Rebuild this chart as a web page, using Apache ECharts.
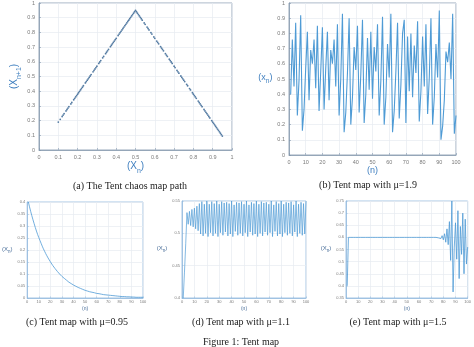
<!DOCTYPE html>
<html><head><meta charset="utf-8">
<script src="https://cdn.jsdelivr.net/npm/echarts@6/dist/echarts.min.js"></script>
<style>html,body{margin:0;padding:0;background:#fff}#c{width:474px;height:347px}</style>
</head><body><div id="c"></div>
<script>
// (a) return map points (x_n, x_{n+1})
const pathX = [0.10,0.12,0.14,0.155,0.17,0.19,0.20,0.21,0.22,0.24,0.25,0.26,0.28,0.29,0.30,0.32,0.33,0.35,0.36,0.38,0.39,0.40,0.42,0.43,0.44,0.45,0.46,0.48,0.49,0.50,
  0.51,0.53,0.55,0.56,0.58,0.60,0.61,0.63,0.64,0.66,0.68,0.69,0.70,0.72,0.74,0.75,0.77,0.78,0.80,0.81,0.83,0.84,0.86,0.87,0.88,0.90,0.91,0.92,0.93,0.94,0.95,
  0.11,0.125,0.13,0.145,0.15,0.165,0.18,0.185,0.195,0.205,0.215,0.225,0.23,0.245,0.255,0.265,0.27,0.285,0.295,0.31,0.315,0.335,0.345,0.355,0.37,0.375,0.385,0.395,0.41,0.415,0.425,0.435,0.445,0.455,0.465,0.47,0.475,0.485,0.495,
  0.505,0.515,0.52,0.525,0.535,0.545,0.565,0.57,0.585,0.595,0.615,0.62,0.635,0.645,0.655,0.665,0.675,0.685,0.705,0.715,0.725,0.735,0.745,0.755,0.765,0.785,0.795,0.805,0.815,0.825,0.835,0.845,0.855,0.865,0.875,0.885,0.895,0.905,0.915,0.925,0.935,0.945];
const pathY = [0.19,0.228,0.266,0.2945,0.323,0.361,0.38,0.399,0.418,0.456,0.475,0.494,0.532,0.551,0.57,0.608,0.627,0.665,0.684,0.722,0.741,0.76,0.798,0.817,0.836,0.855,0.874,0.912,0.931,0.95,
  0.931,0.893,0.855,0.836,0.798,0.76,0.741,0.703,0.684,0.646,0.608,0.589,0.57,0.532,0.494,0.475,0.437,0.418,0.38,0.361,0.323,0.304,0.266,0.247,0.228,0.19,0.171,0.152,0.133,0.114,0.095,
  0.209,0.2375,0.247,0.2755,0.285,0.3135,0.342,0.3515,0.3705,0.3895,0.4085,0.4275,0.437,0.4655,0.4845,0.5035,0.513,0.5415,0.5605,0.589,0.5985,0.6365,0.6555,0.6745,0.703,0.7125,0.7315,0.7505,0.779,0.7885,0.8075,0.8265,0.8455,0.8645,0.8835,0.893,0.9025,0.9215,0.9405,
  0.9405,0.9215,0.912,0.9025,0.8835,0.8645,0.8265,0.817,0.7885,0.7695,0.7315,0.722,0.6935,0.6745,0.6555,0.6365,0.6175,0.5985,0.5605,0.5415,0.5225,0.5035,0.4845,0.4655,0.4465,0.4085,0.3895,0.3705,0.3515,0.3325,0.3135,0.2945,0.2755,0.2565,0.2375,0.2185,0.1995,0.1805,0.1615,0.1425,0.1235,0.1045];

// (b) mu = 1.9, n = 1..100
const seriesB = [0.40,0.76,0.45,0.87,0.26,0.49,0.92,0.16,0.30,0.57,
  0.81,0.36,0.69,0.60,0.76,0.44,0.85,0.29,0.55,0.84,
  0.30,0.57,0.81,0.36,0.69,0.60,0.76,0.45,0.86,0.26,
  0.50,0.93,0.15,0.28,0.54,0.90,0.20,0.38,0.71,0.56,
  0.85,0.28,0.53,0.89,0.21,0.40,0.77,0.43,0.81,0.37,
  0.71,0.55,0.86,0.26,0.49,0.91,0.20,0.38,0.73,0.51,
  0.93,0.15,0.29,0.55,0.87,0.24,0.46,0.80,0.89,0.21,
  0.78,0.42,0.80,0.38,0.72,0.54,0.88,0.22,0.42,0.78,
  0.45,0.86,0.27,0.51,0.90,0.20,0.38,0.73,0.51,0.95,
  0.10,0.19,0.36,0.68,0.61,0.74,0.50,0.93,0.14,0.26];

// (c) mu = 0.95, n = 1..100
const seriesC = [0.400,0.380,0.361,0.343,0.326,0.310,0.294,0.279,0.265,0.252,
  0.240,0.228,0.216,0.205,0.195,0.185,0.176,0.167,0.159,0.151,
  0.143,0.136,0.129,0.123,0.117,0.111,0.105,0.100,0.095,0.090,
  0.086,0.082,0.078,0.074,0.070,0.066,0.063,0.060,0.057,0.054,
  0.051,0.049,0.046,0.044,0.042,0.040,0.038,0.036,0.034,0.032,
  0.031,0.029,0.028,0.026,0.025,0.024,0.023,0.022,0.020,0.019,
  0.018,0.018,0.017,0.016,0.015,0.014,0.014,0.013,0.012,0.012,
  0.011,0.011,0.010,0.010,0.009,0.009,0.008,0.008,0.007,0.007,
  0.007,0.006,0.006,0.006,0.005,0.005,0.005,0.005,0.004,0.004,
  0.004,0.004,0.004,0.003,0.003,0.003,0.003,0.003,0.003,0.003];

// (d) mu = 1.1, n = 1..100
const seriesD = [0.400,0.440,0.484,0.532,0.514,0.534,0.512,0.537,0.510,0.539,
  0.507,0.542,0.504,0.546,0.499,0.549,0.496,0.545,0.500,0.550,
  0.495,0.545,0.501,0.549,0.496,0.546,0.500,0.550,0.495,0.545,
  0.501,0.549,0.497,0.547,0.502,0.548,0.496,0.546,0.499,0.550,
  0.495,0.544,0.503,0.548,0.497,0.547,0.500,0.549,0.496,0.545,
  0.501,0.550,0.495,0.544,0.502,0.548,0.497,0.546,0.499,0.550,
  0.495,0.545,0.500,0.549,0.496,0.547,0.502,0.548,0.497,0.545,
  0.501,0.550,0.495,0.544,0.503,0.549,0.496,0.546,0.499,0.550,
  0.495,0.545,0.501,0.548,0.497,0.547,0.500,0.549,0.496,0.544,
  0.502,0.550,0.495,0.545,0.500,0.548,0.497,0.546,0.499,0.550];

// (e) mu = 1.5, n = 1..100
const seriesE = [0.40,0.60,0.60,0.60,0.60,0.60,0.60,0.60,0.60,0.60,
  0.60,0.60,0.60,0.60,0.60,0.60,0.60,0.60,0.60,0.60,
  0.60,0.60,0.60,0.60,0.60,0.60,0.60,0.60,0.60,0.60,
  0.60,0.60,0.60,0.60,0.60,0.60,0.60,0.60,0.60,0.60,
  0.60,0.60,0.60,0.60,0.60,0.60,0.60,0.60,0.60,0.60,
  0.60,0.60,0.60,0.60,0.60,0.60,0.60,0.60,0.60,0.60,
  0.60,0.60,0.60,0.60,0.60,0.60,0.60,0.60,0.60,0.60,
  0.60,0.60,0.60,0.60,0.601,0.598,0.604,0.595,0.607,0.59,
  0.615,0.58,0.635,0.57,0.665,0.505,0.75,0.375,0.56,0.66,
  0.51,0.71,0.43,0.645,0.53,0.70,0.45,0.675,0.49,0.56];

const captions = ['(a) The Tent chaos map path','(b) Tent map with \u03bc=1.9','(c) Tent map with \u03bc=0.95','(d) Tent map with \u03bc=1.1','(e) Tent map with \u03bc=1.5'];
const figTitle = 'Figure 1: Tent map';

const pairs = arr => arr.map((v, i) => [i + 1, v]);
const FONT = 'Liberation Sans';
const LINE = '#4f9bd5';

function ax(idx, min, max, interval, o) {
  return {
    type: 'value', gridIndex: idx, min, max, interval,
    name: o.name || '', nameLocation: 'middle', nameGap: o.nameGap, nameRotate: o.nameRotate,
    nameTextStyle: Object.assign({fontFamily: FONT, color: o.nameColor, fontSize: o.nameSize}, o.nts || {}),
    axisLine: {show: true, onZero: false, lineStyle: {color: o.lineColor, width: 0.8}},
    axisTick: {show: true, inside: true, length: o.tick, lineStyle: {color: o.lineColor, width: 0.6}},
    splitLine: {show: true, lineStyle: {color: '#e6ebf0', width: 0.7}},
    axisLabel: {fontFamily: FONT, fontSize: o.labelSize, color: '#7a7a7a', margin: o.margin, showMinLabel: true, showMaxLabel: true}
  };
}
function sub(main, s, mSize, sSize, color) {
  const lh = Math.round(mSize * 1.35);
  return {
    name: '{m|' + main + '}{s|' + s + '}{m|)}',
    nts: {rich: {
      m: {fontFamily: FONT, fontSize: mSize, lineHeight: lh, verticalAlign: 'top', color},
      s: {fontFamily: FONT, fontSize: sSize, lineHeight: lh, verticalAlign: 'bottom', color}
    }}
  };
}
const topC = '#3f7fbf', botC = '#4a6f9a';
const TOPL = '#8196ab', BOTL = '#8fb8de';

const ya = sub('(X', 'n+1', 10, 7, topC);
const xa = sub('(X', 'n', 10, 7, topC);
const yb = sub('(x', 'n', 9, 6.5, topC);
const yc = sub('(X', 'n', 6, 4.5, botC);

const xAxes = [
  ax(0, 0, 1, 0.1, {name: xa.name, nts: xa.nts, nameGap: 10, lineColor: TOPL, tick: 2, labelSize: 5.5, margin: 4}),
  ax(1, 0, 100, 10, {name: '(n)', nameColor: topC, nameSize: 9, nameGap: 9, lineColor: TOPL, tick: 2, labelSize: 5.5, margin: 4}),
  ax(2, 0, 100, 10, {name: '(n)', nameColor: botC, nameSize: 5, nameGap: 8, lineColor: BOTL, tick: 1.5, labelSize: 4, margin: 2}),
  ax(3, 0, 100, 10, {name: '(n)', nameColor: botC, nameSize: 5, nameGap: 8, lineColor: BOTL, tick: 1.5, labelSize: 4, margin: 2}),
  ax(4, 0, 100, 10, {name: '(n)', nameColor: botC, nameSize: 5, nameGap: 8, lineColor: BOTL, tick: 1.5, labelSize: 4, margin: 2})
];
const yAxes = [
  ax(0, 0, 1, 0.1, {name: ya.name, nts: ya.nts, nameGap: 16, lineColor: TOPL, tick: 2, labelSize: 5.5, margin: 4}),
  ax(1, 0, 1, 0.1, {name: yb.name, nts: yb.nts, nameGap: 12, nameRotate: 0, lineColor: TOPL, tick: 2, labelSize: 5.5, margin: 4}),
  ax(2, 0, 0.4, 0.05, {name: yc.name, nts: yc.nts, nameGap: 8, nameRotate: 0, lineColor: BOTL, tick: 1.5, labelSize: 4, margin: 2}),
  ax(3, 0.4, 0.55, 0.05, {name: yc.name, nts: yc.nts, nameGap: 8, nameRotate: 0, lineColor: BOTL, tick: 1.5, labelSize: 4, margin: 2}),
  ax(4, 0.35, 0.75, 0.05, {name: yc.name, nts: yc.nts, nameGap: 12, nameRotate: 0, lineColor: BOTL, tick: 1.5, labelSize: 4, margin: 2})
];

const gridBase = {show: true, borderWidth: 0.8, backgroundColor: '#fff'};
const grids = [
  Object.assign({left: 39, top: 2, width: 193, height: 148, borderColor: TOPL}, gridBase),
  Object.assign({left: 289, top: 2, width: 167, height: 153, borderColor: TOPL}, gridBase),
  Object.assign({left: 17, top: 202, width: 126, height: 96, borderColor: BOTL}, gridBase),
  Object.assign({left: 182, top: 201, width: 124, height: 97, borderColor: BOTL}, gridBase),
  Object.assign({left: 346, top: 201, width: 126, height: 97, borderColor: BOTL}, gridBase)
];

function cap(text, x, y) {
  return {type: 'text', x, y, silent: true,
    style: {text, fill: '#222', font: '10px "Liberation Serif"', align: 'center', verticalAlign: 'middle'}};
}

const chart = echarts.init(document.getElementById('c'), null, {renderer: 'canvas'});
chart.setOption({
  animation: false,
  backgroundColor: '#fff',
  grid: grids,
  xAxis: xAxes,
  yAxis: yAxes,
  series: [
    {type: 'scatter', xAxisIndex: 0, yAxisIndex: 0, symbolSize: 1.8,
     itemStyle: {color: '#2b5b8c'}, data: pathX.map((x, i) => [x, pathY[i]])},
    {type: 'line', xAxisIndex: 1, yAxisIndex: 1, showSymbol: false, lineStyle: {color: LINE, width: 1.1}, data: pairs(seriesB)},
    {type: 'line', xAxisIndex: 2, yAxisIndex: 2, showSymbol: false, lineStyle: {color: LINE, width: 0.8}, data: pairs(seriesC)},
    {type: 'line', xAxisIndex: 3, yAxisIndex: 3, showSymbol: false, lineStyle: {color: LINE, width: 0.7}, data: pairs(seriesD)},
    {type: 'line', xAxisIndex: 4, yAxisIndex: 4, showSymbol: false, lineStyle: {color: LINE, width: 0.8}, data: pairs(seriesE)}
  ],
  graphic: [
    cap(captions[0], 130, 186),
    cap(captions[1], 368, 185),
    cap(captions[2], 77, 322),
    cap(captions[3], 241, 322),
    cap(captions[4], 398, 322),
    cap(figTitle, 241, 342)
  ]
});
</script></body></html>
